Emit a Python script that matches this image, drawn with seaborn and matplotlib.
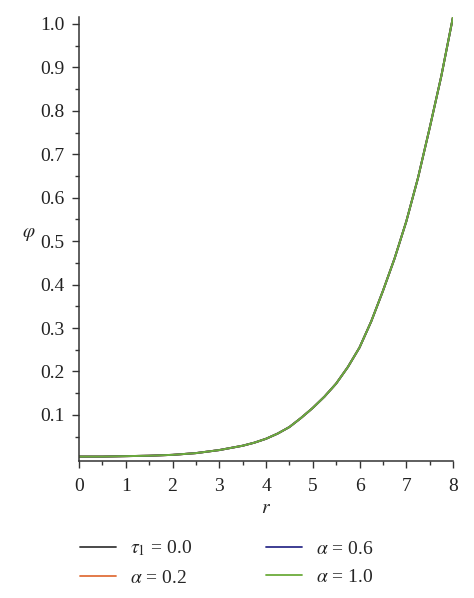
import matplotlib
matplotlib.use('Agg')
import matplotlib.pyplot as plt
from matplotlib.ticker import MultipleLocator
import seaborn as sns
import pandas as pd

# ----------
# values
# ----------
r = [0, 0.5, 1, 1.5, 2, 2.5, 3, 3.5, 3.75, 4, 4.25, 4.5, 4.75, 5, 5.25, 5.5,
     5.75, 6, 6.25, 6.5, 6.75, 7, 7.25, 7.5, 7.75, 8]
phi = [0.004, 0.004, 0.005, 0.006, 0.008, 0.012, 0.019, 0.029, 0.036, 0.045,
       0.057, 0.072, 0.093, 0.116, 0.142, 0.172, 0.21, 0.255, 0.315, 0.385,
       0.46, 0.545, 0.645, 0.76, 0.88, 1.016]
labels = ['$\\tau_1$ = 0.0', '$\\alpha$ = 0.2', '$\\alpha$ = 0.6', '$\\alpha$ = 1.0']
colors = ['#3a3a3a', '#e0703a', '#2e2e8a', '#6cab3c']

# ----------
# long form table, all four curves sit on top of each other
# ----------
rows = []
for lab in labels:
    for x, y in zip(r, phi):
        rows.append({'r': x, 'phi': y, 'case': lab})
df = pd.DataFrame(rows)

sns.set_style('ticks')
plt.rcParams['font.family'] = ['Liberation Serif', 'DejaVu Serif']
plt.rcParams['mathtext.fontset'] = 'stix'
plt.rcParams['font.size'] = 12

fig = plt.figure(figsize=(4.74, 5.98), dpi=100)
ax = fig.add_axes([79 / 474, 1 - 460.5 / 598, 374 / 474, 443.5 / 598])

sns.lineplot(data=df, x='r', y='phi', hue='case', hue_order=labels,
             palette=colors, linewidth=1.4, ax=ax, legend=False)

ax.set_xlim(0, 8)
ax.set_ylim(-0.005, 1.016)
ax.xaxis.set_major_locator(MultipleLocator(1))
ax.xaxis.set_minor_locator(MultipleLocator(0.5))
ax.set_yticks([0.1, 0.2, 0.3, 0.4, 0.5, 0.6, 0.7, 0.8, 0.9, 1.0])
ax.set_yticks([0.05, 0.15, 0.25, 0.35, 0.45, 0.55, 0.65, 0.75, 0.85, 0.95], minor=True)
ax.tick_params(which='major', length=5, width=1, colors='#333333', labelcolor='#222222',
               labelsize=14)
ax.tick_params(axis='x', which='major', pad=7.5)
ax.tick_params(axis='y', which='major', pad=5.5)
ax.tick_params(which='minor', length=3, width=1, colors='#333333')
for s in ['left', 'bottom']:
    ax.spines[s].set_color('#333333')
    ax.spines[s].set_linewidth(1.1)
sns.despine(ax=ax)

ax.set_xlabel('$r$', fontsize=14, labelpad=4, color='#222222')
ax.set_ylabel('$\\varphi$', fontsize=14, rotation=0, labelpad=14, color='#222222')
ax.yaxis.set_label_coords(-0.135, 0.49)

# ----------
# legend below the plot
# ----------
handles = [plt.Line2D([], [], color=c, lw=1.3) for c in colors]
ax.legend(handles, labels,
          loc='upper left', bbox_to_anchor=(-0.045, -0.137), ncol=2, frameon=False,
          handlelength=1.85, handletextpad=0.72, columnspacing=3.8,
          labelspacing=0.55, fontsize=14)

fig.savefig('out.png', dpi=100)
